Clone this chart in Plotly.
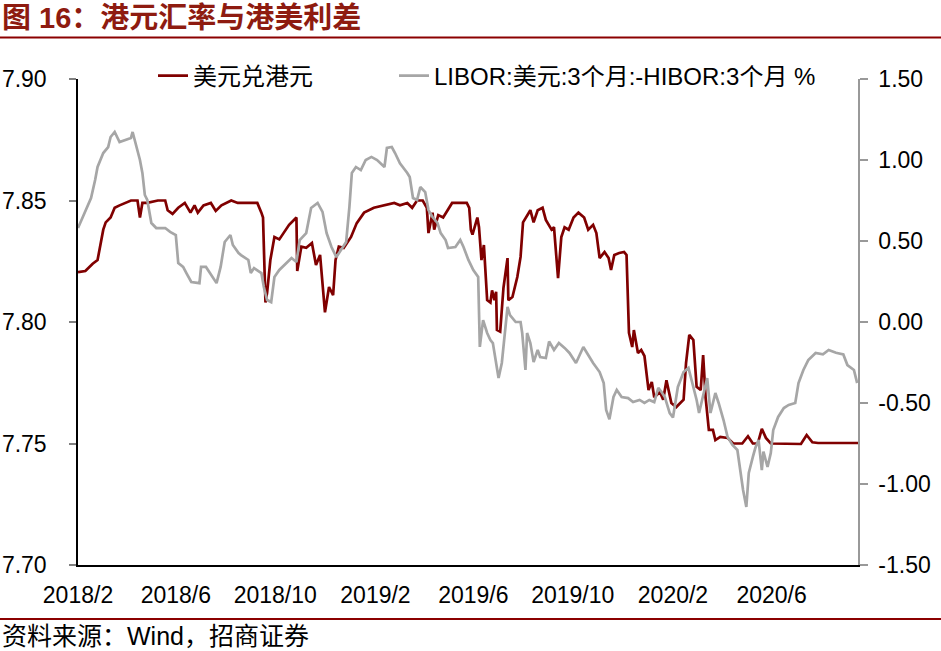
import plotly.graph_objects as go

# ---- data ----
red_dates = [
    "2018-02-01", "2018-02-10", "2018-02-19", "2018-02-25", "2018-03-04", "2018-03-07", "2018-03-13",
    "2018-03-18", "2018-03-24", "2018-03-30", "2018-04-07", "2018-04-15", "2018-04-18", "2018-04-21",
    "2018-04-27", "2018-05-10", "2018-05-19", "2018-05-22", "2018-05-28", "2018-06-04", "2018-06-12",
    "2018-06-19", "2018-06-24", "2018-06-28", "2018-07-05", "2018-07-14", "2018-07-20", "2018-07-27",
    "2018-08-08", "2018-08-16", "2018-08-25", "2018-09-09", "2018-09-14", "2018-09-16", "2018-09-19",
    "2018-09-21", "2018-09-25", "2018-09-30", "2018-10-06", "2018-10-12", "2018-10-18", "2018-10-27",
    "2018-10-28", "2018-11-02", "2018-11-08", "2018-11-15", "2018-11-20", "2018-11-25", "2018-11-27",
    "2018-12-01", "2018-12-06", "2018-12-11", "2018-12-14", "2018-12-18", "2018-12-24", "2019-01-02",
    "2019-01-09", "2019-01-18", "2019-01-30", "2019-02-12", "2019-02-24", "2019-03-03", "2019-03-12",
    "2019-03-18", "2019-03-24", "2019-03-31", "2019-04-05", "2019-04-07", "2019-04-12", "2019-04-14",
    "2019-04-19", "2019-04-25", "2019-05-01", "2019-05-06", "2019-05-12", "2019-05-24", "2019-05-27",
    "2019-05-29", "2019-05-31", "2019-06-06", "2019-06-08", "2019-06-11", "2019-06-14", "2019-06-18",
    "2019-06-22", "2019-06-24", "2019-06-27", "2019-06-29", "2019-06-30", "2019-07-04", "2019-07-08",
    "2019-07-13", "2019-07-14", "2019-07-19", "2019-07-25", "2019-07-29", "2019-08-01", "2019-08-10",
    "2019-08-14", "2019-08-19", "2019-08-25", "2019-08-29", "2019-09-05", "2019-09-08", "2019-09-13",
    "2019-09-17", "2019-09-21", "2019-09-26", "2019-10-02", "2019-10-08", "2019-10-15", "2019-10-20",
    "2019-10-26", "2019-10-30", "2019-11-03", "2019-11-09", "2019-11-14", "2019-11-17", "2019-11-21",
    "2019-11-27", "2019-12-03", "2019-12-06", "2019-12-09", "2019-12-13", "2019-12-15", "2019-12-20",
    "2019-12-24", "2019-12-28", "2020-01-02", "2020-01-06", "2020-01-09", "2020-01-16", "2020-01-20",
    "2020-01-24", "2020-01-30", "2020-02-05", "2020-02-14", "2020-02-17", "2020-02-21", "2020-02-26",
    "2020-03-01", "2020-03-06", "2020-03-09", "2020-03-12", "2020-03-16", "2020-03-21", "2020-03-24",
    "2020-03-30", "2020-04-08", "2020-04-15", "2020-04-26", "2020-05-03", "2020-05-09", "2020-05-15",
    "2020-05-20", "2020-05-25", "2020-05-31", "2020-06-16", "2020-07-07", "2020-07-14", "2020-07-21",
    "2020-07-28", "2020-08-12", "2020-08-31", "2020-09-15",
]
red_vals = [
    7.8205, 7.8210, 7.8240, 7.8255, 7.8380, 7.8410, 7.8430,
    7.8470, 7.8480, 7.8490, 7.8500, 7.8500, 7.8430, 7.8490,
    7.8490, 7.8500, 7.8500, 7.8460, 7.8445, 7.8470, 7.8490,
    7.8450, 7.8480, 7.8450, 7.8480, 7.8490, 7.8457, 7.8480,
    7.8500, 7.8490, 7.8490, 7.8490, 7.8450, 7.8430, 7.8080,
    7.8120, 7.8255, 7.8350, 7.8340, 7.8370, 7.8400, 7.8430,
    7.8210, 7.8310, 7.8305, 7.8325, 7.8235, 7.8276, 7.8200,
    7.8040, 7.8144, 7.8110, 7.8255, 7.8310, 7.8305, 7.8350,
    7.8407, 7.8450, 7.8470, 7.8480, 7.8490, 7.8480, 7.8490,
    7.8470, 7.8500, 7.8500, 7.8470, 7.8366, 7.8450, 7.8380,
    7.8440, 7.8430, 7.8460, 7.8490, 7.8490, 7.8490, 7.8470,
    7.8380, 7.8360, 7.8430, 7.8390, 7.8255, 7.8317, 7.8090,
    7.8080, 7.8130, 7.8090, 7.8124, 7.7967, 7.7960, 7.8140,
    7.8263, 7.8090, 7.8103, 7.8185, 7.8268, 7.8410, 7.8460,
    7.8410, 7.8460, 7.8470, 7.8420, 7.8380, 7.8390, 7.8180,
    7.8350, 7.8390, 7.8380, 7.8430, 7.8450, 7.8430, 7.8380,
    7.8400, 7.8366, 7.8263, 7.8288, 7.8263, 7.8214, 7.8276,
    7.8284, 7.8288, 7.8276, 7.7955, 7.7897, 7.7967, 7.7872,
    7.7885, 7.7860, 7.7720, 7.7753, 7.7690, 7.7712, 7.7680,
    7.7760, 7.7667, 7.7650, 7.7680, 7.7831, 7.7947, 7.7926,
    7.7733, 7.7720, 7.7864, 7.7690, 7.7556, 7.7556, 7.7514,
    7.7527, 7.7523, 7.7500, 7.7500, 7.7530, 7.7500, 7.7500,
    7.7560, 7.7523, 7.7500, 7.7498, 7.7498, 7.7535, 7.7505,
    7.7502, 7.7502, 7.7500, 7.7502,
]

grey_dates = [
    "2018-02-01", "2018-02-07", "2018-02-13", "2018-02-17", "2018-02-22", "2018-02-25", "2018-03-04",
    "2018-03-10", "2018-03-13", "2018-03-18", "2018-03-24", "2018-04-01", "2018-04-07", "2018-04-09",
    "2018-04-13", "2018-04-18", "2018-04-21", "2018-04-24", "2018-04-27", "2018-05-02", "2018-05-08",
    "2018-05-19", "2018-05-25", "2018-06-01", "2018-06-04", "2018-06-10", "2018-06-14", "2018-06-20",
    "2018-06-30", "2018-07-02", "2018-07-08", "2018-07-14", "2018-07-21", "2018-07-26", "2018-07-31",
    "2018-08-07", "2018-08-10", "2018-08-17", "2018-08-20", "2018-08-29", "2018-09-01", "2018-09-05",
    "2018-09-14", "2018-09-17", "2018-09-21", "2018-09-26", "2018-09-30", "2018-10-06", "2018-10-12",
    "2018-10-21", "2018-10-27", "2018-10-31", "2018-11-08", "2018-11-14", "2018-11-22", "2018-11-28",
    "2018-12-03", "2018-12-09", "2018-12-15", "2018-12-21", "2018-12-27", "2018-12-31", "2019-01-03",
    "2019-01-08", "2019-01-14", "2019-01-20", "2019-01-27", "2019-02-03", "2019-02-12", "2019-02-15",
    "2019-02-21", "2019-02-25", "2019-03-03", "2019-03-12", "2019-03-15", "2019-03-19", "2019-03-24",
    "2019-03-28", "2019-04-03", "2019-04-07", "2019-04-12", "2019-04-18", "2019-04-22", "2019-04-28",
    "2019-05-01", "2019-05-10", "2019-05-16", "2019-05-20", "2019-05-26", "2019-06-01", "2019-06-07",
    "2019-06-09", "2019-06-13", "2019-06-18", "2019-06-22", "2019-06-25", "2019-06-30", "2019-07-02",
    "2019-07-06", "2019-07-10", "2019-07-13", "2019-07-16", "2019-07-23", "2019-07-29", "2019-07-31",
    "2019-08-04", "2019-08-06", "2019-08-10", "2019-08-14", "2019-08-19", "2019-08-22", "2019-08-29",
    "2019-09-02", "2019-09-08", "2019-09-14", "2019-09-21", "2019-09-27", "2019-10-05", "2019-10-14",
    "2019-10-20", "2019-10-26", "2019-11-03", "2019-11-08", "2019-11-11", "2019-11-15", "2019-11-20",
    "2019-11-24", "2019-11-30", "2019-12-08", "2019-12-14", "2019-12-22", "2019-12-28", "2020-01-03",
    "2020-01-09", "2020-01-14", "2020-01-18", "2020-01-22", "2020-01-28", "2020-02-01", "2020-02-07",
    "2020-02-14", "2020-02-20", "2020-02-26", "2020-03-01", "2020-03-04", "2020-03-09", "2020-03-14",
    "2020-03-18", "2020-03-24", "2020-03-28", "2020-04-03", "2020-04-08", "2020-04-14", "2020-04-20",
    "2020-04-24", "2020-04-27", "2020-05-01", "2020-05-04", "2020-05-09", "2020-05-12", "2020-05-16",
    "2020-05-20", "2020-05-22", "2020-05-27", "2020-05-31", "2020-06-03", "2020-06-09", "2020-06-16",
    "2020-06-22", "2020-06-30", "2020-07-04", "2020-07-10", "2020-07-16", "2020-07-25", "2020-08-03",
    "2020-08-10", "2020-08-19", "2020-08-28", "2020-09-02", "2020-09-10", "2020-09-14",
]
grey_vals = [
    0.580, 0.648, 0.722, 0.765, 0.877, 0.957, 1.043,
    1.080, 1.142, 1.173, 1.111, 1.123, 1.136, 1.173,
    1.093, 1.000, 0.920, 0.784, 0.753, 0.611, 0.580,
    0.580, 0.556, 0.537, 0.364, 0.340, 0.302, 0.247,
    0.240, 0.340, 0.340, 0.290, 0.240, 0.340, 0.494,
    0.537, 0.475, 0.426, 0.413, 0.383, 0.302, 0.333,
    0.302, 0.216, 0.136, 0.123, 0.278, 0.321, 0.352,
    0.395, 0.370, 0.506, 0.549, 0.704, 0.735, 0.680,
    0.549, 0.463, 0.401, 0.444, 0.494, 0.710, 0.920,
    0.957, 0.938, 1.000, 1.019, 1.000, 0.957, 1.074,
    1.080, 1.043, 0.980, 0.920, 0.895, 0.765, 0.753,
    0.833, 0.802, 0.691, 0.648, 0.611, 0.549, 0.506,
    0.457, 0.463, 0.506, 0.463, 0.383, 0.321, 0.278,
    -0.154, 0.012, -0.068, -0.111, -0.130, -0.278, -0.346,
    -0.253, -0.031, 0.093, 0.043, 0.000, 0.000, -0.068,
    -0.296, -0.068, -0.130, -0.247, -0.173, -0.216, -0.222,
    -0.120, -0.173, -0.130, -0.160, -0.191, -0.253, -0.154,
    -0.204, -0.253, -0.309, -0.377, -0.543, -0.600, -0.463,
    -0.420, -0.463, -0.470, -0.494, -0.481, -0.500, -0.481,
    -0.494, -0.407, -0.432, -0.463, -0.562, -0.590, -0.401,
    -0.309, -0.284, -0.401, -0.481, -0.562, -0.463, -0.346,
    -0.562, -0.438, -0.500, -0.605, -0.710, -0.759, -0.790,
    -0.932, -1.037, -1.142, -0.932, -0.833, -0.778, -0.728,
    -0.914, -0.800, -0.895, -0.809, -0.667, -0.586, -0.531,
    -0.512, -0.500, -0.377, -0.296, -0.235, -0.191, -0.200,
    -0.173, -0.190, -0.200, -0.266, -0.296, -0.377,
]

x_tick_vals = ["2018-02-01", "2018-06-01", "2018-10-01", "2019-02-01",
               "2019-06-01", "2019-10-01", "2020-02-01", "2020-06-01"]
x_tick_text = ["2018/2", "2018/6", "2018/10", "2019/2", "2019/6", "2019/10", "2020/2", "2020/6"]
left_ticks = [7.70, 7.75, 7.80, 7.85, 7.90]
left_text = ["7.70", "7.75", "7.80", "7.85", "7.90"]
right_ticks = [-1.5, -1.0, -0.5, 0.0, 0.5, 1.0, 1.5]
right_text = ["-1.50", "-1.00", "-0.50", "0.00", "0.50", "1.00", "1.50"]

red_name = "美元兑港元"
grey_name = "LIBOR:美元:3个月:-HIBOR:3个月 %"
title_text = "图 16：港元汇率与港美利差"
source_text = "资料来源：Wind，招商证券"

FONT = "Liberation Sans, Arial, Noto Sans CJK SC, sans-serif"
RED = "#800000"
GREY = "#A6A6A6"
DARKRED = "#8B0000"

fig = go.Figure()
fig.add_trace(go.Scatter(x=red_dates, y=red_vals, mode="lines", name=red_name,
                         line=dict(color=RED, width=2.7), yaxis="y", legend="legend"))
fig.add_trace(go.Scatter(x=grey_dates, y=grey_vals, mode="lines", name=grey_name,
                         line=dict(color=GREY, width=2.7), yaxis="y2", legend="legend2"))

W, H = 941, 651
L, R, T, B = 78, 83, 79, 86
pw, ph = W - L - R, H - T - B


def px_x(p):
    return (p - L) / pw


def px_y(p):
    return (H - B - p) / ph


fig.update_layout(
    width=W, height=H,
    margin=dict(l=L, r=R, t=T, b=B, pad=0, autoexpand=False),
    paper_bgcolor="white", plot_bgcolor="white",
    font=dict(family=FONT, size=23, color="black"),
    xaxis=dict(type="date", range=["2018-02-01", "2020-09-15"],
               tickvals=x_tick_vals, ticktext=x_tick_text,
               showline=True, linecolor="black", linewidth=2,
               ticks="", showgrid=False, zeroline=False, automargin=False,
               tickfont=dict(size=23), ticklabelstandoff=8),
    yaxis=dict(range=[7.70, 7.90], tickvals=left_ticks, ticktext=left_text,
               showline=True, linecolor="black", linewidth=1.5,
               ticks="outside", ticklen=7, tickcolor="#808080", tickwidth=1.5,
               showgrid=False, zeroline=False, automargin=False,
               tickfont=dict(size=23), ticklabelstandoff=18),
    yaxis2=dict(range=[-1.5, 1.5], tickvals=right_ticks, ticktext=right_text,
                overlaying="y", side="right",
                showline=True, linecolor="#999999", linewidth=1.5,
                ticks="outside", ticklen=8, tickcolor="#999999", tickwidth=1.5,
                showgrid=False, zeroline=False, automargin=False,
                tickfont=dict(size=23), ticklabelstandoff=6),
    legend=dict(x=px_x(153), y=px_y(76), xanchor="left", yanchor="middle",
                orientation="h", bgcolor="rgba(0,0,0,0)",
                font=dict(size=24, family=FONT)),
    legend2=dict(x=px_x(394), y=px_y(76), xanchor="left", yanchor="middle",
                 orientation="h", bgcolor="rgba(0,0,0,0)",
                 font=dict(size=24, family=FONT)),
    showlegend=True,
)

fig.add_annotation(text="<b>" + title_text + "</b>", xref="paper", yref="paper",
                   x=px_x(0), y=px_y(18), xanchor="left", yanchor="middle",
                   showarrow=False, font=dict(size=29, color="#8E1B10", family=FONT))
fig.add_annotation(text=source_text, xref="paper", yref="paper",
                   x=px_x(0), y=px_y(636), xanchor="left", yanchor="middle",
                   showarrow=False, font=dict(size=25, color="black", family=FONT))

fig.add_shape(type="line", xref="paper", yref="paper",
              x0=px_x(0), x1=px_x(W), y0=px_y(37.5), y1=px_y(37.5),
              line=dict(color=DARKRED, width=2))
fig.add_shape(type="line", xref="paper", yref="paper",
              x0=px_x(0), x1=px_x(W), y0=px_y(619), y1=px_y(619),
              line=dict(color=DARKRED, width=2))

fig.write_html("out.html")
